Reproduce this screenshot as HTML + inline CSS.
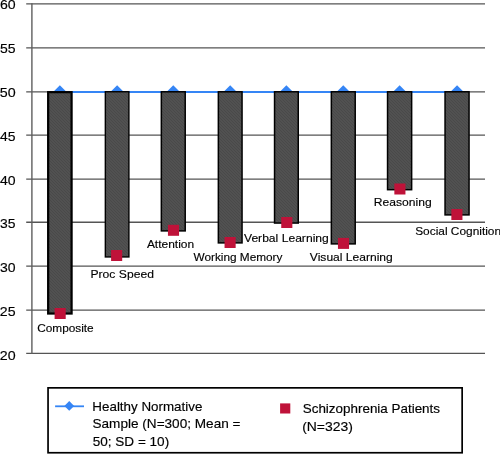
<!DOCTYPE html><html><head><meta charset="utf-8"><title>Chart</title><style>html,body{margin:0;padding:0;background:#fff;overflow:hidden}svg{display:block}text{font-family:"Liberation Sans",Arial,Helvetica,sans-serif;fill:#000;stroke:#000;stroke-width:0.15px}</style></head><body>
<svg width="500" height="454" viewBox="0 0 500 454">
<defs><pattern id="h" width="3" height="3" patternUnits="userSpaceOnUse"><rect width="3" height="3" fill="#515151"/><path d="M0 0L3 3M-1 2L1 4M2 -1L4 1" stroke="#484848" stroke-width="0.9"/></pattern></defs>
<rect width="500" height="454" fill="#fff"/>
<line x1="26.2" x2="485.0" y1="3.84" y2="3.84" stroke="#555555" stroke-width="1.3"/>
<line x1="26.2" x2="485.0" y1="47.84" y2="47.84" stroke="#555555" stroke-width="1.3"/>
<line x1="26.2" x2="485.0" y1="91.84" y2="91.84" stroke="#555555" stroke-width="1.3"/>
<line x1="26.2" x2="485.0" y1="135.16" y2="135.16" stroke="#555555" stroke-width="1.3"/>
<line x1="26.2" x2="485.0" y1="179.16" y2="179.16" stroke="#555555" stroke-width="1.3"/>
<line x1="26.2" x2="485.0" y1="222.24" y2="222.24" stroke="#555555" stroke-width="1.3"/>
<line x1="26.2" x2="485.0" y1="266.16" y2="266.16" stroke="#555555" stroke-width="1.3"/>
<line x1="26.2" x2="485.0" y1="310.16" y2="310.16" stroke="#555555" stroke-width="1.3"/>
<line x1="26.2" x2="485.0" y1="353.3" y2="353.3" stroke="#555555" stroke-width="1.3"/>
<line x1="31.9" x2="31.9" y1="3.2399999999999998" y2="353.90000000000003" stroke="#5e5e5e" stroke-width="1.4"/>
<text id="a60" x="-0.08" y="8.65" font-size="13" textLength="15.72" lengthAdjust="spacingAndGlyphs">60</text>
<text id="a55" x="-0.04" y="52.8" font-size="13" textLength="15.58" lengthAdjust="spacingAndGlyphs">55</text>
<text id="a50" x="-0.25" y="96.5" font-size="13" textLength="15.90" lengthAdjust="spacingAndGlyphs">50</text>
<text id="a45" x="0.03" y="140.5" font-size="13" textLength="15.50" lengthAdjust="spacingAndGlyphs">45</text>
<text id="a40" x="0.03" y="184.6" font-size="13" textLength="15.61" lengthAdjust="spacingAndGlyphs">40</text>
<text id="a35" x="0.07" y="227.7" font-size="13" textLength="15.47" lengthAdjust="spacingAndGlyphs">35</text>
<text id="a30" x="0.06" y="271.8" font-size="13" textLength="15.58" lengthAdjust="spacingAndGlyphs">30</text>
<text id="a25" x="-0.18" y="315.7" font-size="13" textLength="15.72" lengthAdjust="spacingAndGlyphs">25</text>
<text id="a20" x="-0.18" y="359.6" font-size="13" textLength="15.83" lengthAdjust="spacingAndGlyphs">20</text>
<line x1="60.16" x2="456.9" y1="92.02000000000001" y2="92.02000000000001" stroke="#3585f5" stroke-width="1.8"/>
<path d="M53.87 91.14L59.87 85.14L65.87 91.14L59.87 97.14Z" fill="#3585f5"/>
<path d="M111.12 91.14L117.12 85.14L123.12 91.14L117.12 97.14Z" fill="#3585f5"/>
<path d="M167.28 91.14L173.28 85.14L179.28 91.14L173.28 97.14Z" fill="#3585f5"/>
<path d="M224.20 91.14L230.20 85.14L236.20 91.14L230.20 97.14Z" fill="#3585f5"/>
<path d="M280.40 91.14L286.40 85.14L292.40 91.14L286.40 97.14Z" fill="#3585f5"/>
<path d="M337.28 91.14L343.28 85.14L349.28 91.14L343.28 97.14Z" fill="#3585f5"/>
<path d="M393.60 91.14L399.60 85.14L405.60 91.14L399.60 97.14Z" fill="#3585f5"/>
<path d="M451.05 91.14L457.05 85.14L463.05 91.14L457.05 97.14Z" fill="#3585f5"/>
<rect x="48.14" y="92.14" width="23.46" height="221.40" fill="url(#h)" stroke="#000" stroke-width="2.2"/>
<rect x="105.34" y="91.74" width="23.56" height="165.20" fill="url(#h)" stroke="#000" stroke-width="1.4"/>
<rect x="161.35" y="91.79" width="23.86" height="139.10" fill="url(#h)" stroke="#000" stroke-width="1.5"/>
<rect x="218.35" y="91.79" width="23.70" height="151.10" fill="url(#h)" stroke="#000" stroke-width="1.5"/>
<rect x="274.55" y="91.79" width="23.70" height="131.26" fill="url(#h)" stroke="#000" stroke-width="1.5"/>
<rect x="331.35" y="91.79" width="23.86" height="152.10" fill="url(#h)" stroke="#000" stroke-width="1.5"/>
<rect x="387.55" y="91.79" width="24.10" height="97.90" fill="url(#h)" stroke="#000" stroke-width="1.5"/>
<rect x="445.05" y="91.79" width="24.00" height="123.10" fill="url(#h)" stroke="#000" stroke-width="1.5"/>
<rect x="54.61" y="308.00" width="11.1" height="11" fill="#bf1239"/>
<rect x="111.09" y="250.00" width="11.1" height="11" fill="#bf1239"/>
<rect x="167.95" y="224.80" width="11.1" height="11" fill="#bf1239"/>
<rect x="224.55" y="237.00" width="11.1" height="11" fill="#bf1239"/>
<rect x="281.25" y="217.00" width="11.1" height="11" fill="#bf1239"/>
<rect x="337.95" y="237.90" width="11.1" height="11" fill="#bf1239"/>
<rect x="394.35" y="183.50" width="11.1" height="11" fill="#bf1239"/>
<rect x="451.35" y="209.00" width="11.1" height="11" fill="#bf1239"/>
<text id="l0" x="37.17" y="331.6" font-size="11.8" textLength="56.54" lengthAdjust="spacingAndGlyphs">Composite</text>
<text id="l1" x="90.47" y="277.6" font-size="11.8" textLength="63.43" lengthAdjust="spacingAndGlyphs">Proc Speed</text>
<text id="l2" x="146.90" y="248.1" font-size="11.8" textLength="47.24" lengthAdjust="spacingAndGlyphs">Attention</text>
<text id="l3" x="193.47" y="261.0" font-size="11.8" textLength="88.99" lengthAdjust="spacingAndGlyphs">Working Memory</text>
<text id="l4" x="243.97" y="241.6" font-size="11.8" textLength="84.83" lengthAdjust="spacingAndGlyphs">Verbal Learning</text>
<text id="l5" x="309.87" y="261.0" font-size="11.8" textLength="82.88" lengthAdjust="spacingAndGlyphs">Visual Learning</text>
<text id="l6" x="373.87" y="205.6" font-size="11.8" textLength="57.83" lengthAdjust="spacingAndGlyphs">Reasoning</text>
<text id="l7" x="415.17" y="234.8" font-size="11.8" textLength="85.90" lengthAdjust="spacingAndGlyphs">Social Cognition</text>
<rect x="48.05" y="387.85" width="414.1" height="64.9" fill="#fff" stroke="#000" stroke-width="1.7"/>
<line x1="55.1" x2="84" y1="406.3" y2="406.3" stroke="#3585f5" stroke-width="1.8"/>
<path d="M64.35 405.95L69.25 401.05L74.15 405.95L69.25 410.85Z" fill="#3585f5"/>
<text id="g0" x="92.35" y="410.6" font-size="12.7" textLength="110.00" lengthAdjust="spacingAndGlyphs">Healthy Normative</text>
<text id="g1" x="92.53" y="428.1" font-size="12.7" textLength="147.92" lengthAdjust="spacingAndGlyphs">Sample (N=300; Mean =</text>
<text id="g2" x="92.67" y="445.6" font-size="12.7" textLength="76.54" lengthAdjust="spacingAndGlyphs">50; SD = 10)</text>
<rect x="280.1" y="403.4" width="10.2" height="10.1" fill="#bf1239"/>
<text id="r0" x="302.74" y="413.3" font-size="12.7" textLength="137.29" lengthAdjust="spacingAndGlyphs">Schizophrenia Patients</text>
<text id="r1" x="302.18" y="430.9" font-size="12.7" textLength="50.73" lengthAdjust="spacingAndGlyphs">(N=323)</text>
</svg></body></html>
